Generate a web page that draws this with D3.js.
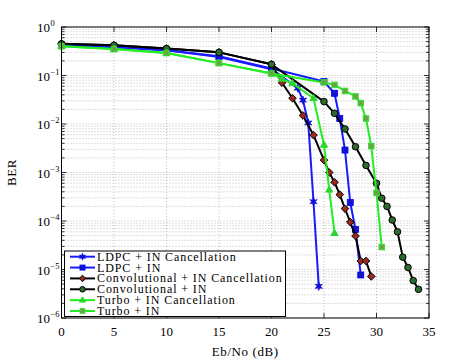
<!DOCTYPE html>
<html><head><meta charset="utf-8">
<script src="https://cdn.jsdelivr.net/npm/d3@7"></script>
<style>
body{margin:0;background:#fff;}
svg{display:block;}
</style></head>
<body><svg id="c" width="474" height="363"></svg>
<script>
// ---- data ----
const seriesNames = ["LDPC + IN Cancellation","LDPC + IN","Convolutional + IN Cancellation","Convolutional + IN","Turbo + IN Cancellation","Turbo + IN"];
const ldpcCancelX = [0,5,10,15,20,22.5,23,23.5,24,24.5];
const ldpcCancelY = [0.42,0.38,0.33,0.24,0.135,0.055,0.031,0.0105,2.5e-4,4.5e-6];
const ldpcInX = [0,5,10,15,20,25,26,26.5,27,27.5,28,28.5];
const ldpcInY = [0.42,0.39,0.33,0.25,0.14,0.075,0.043,0.013,0.0029,2.4e-4,6.7e-5,7.7e-6];
const convCancelX = [0,5,10,15,20,21,22,23,24,25,25.5,26,26.5,27,27.5,28,28.5,29,29.5];
const convCancelY = [0.45,0.42,0.36,0.30,0.17,0.071,0.034,0.015,0.0059,0.0018,1.0e-3,6.3e-4,3.5e-4,1.8e-4,9.5e-5,4.9e-5,1.5e-5,1.5e-5,7.2e-6];
const convInX = [0,5,10,15,20,25,26,27,28,29,30,30.5,31,31.5,32,32.5,33,33.5,34];
const convInY = [0.45,0.42,0.36,0.30,0.17,0.029,0.0166,0.0079,0.0034,0.0014,6e-4,2.95e-4,2.0e-4,1.05e-4,6e-5,1.8e-5,1.1e-5,5.9e-6,3.9e-6];
const turboCancelX = [0,5,10,15,20,21,22,24,25,25.5,26];
const turboCancelY = [0.40,0.35,0.29,0.18,0.11,0.085,0.069,0.034,0.0037,4.4e-4,5.6e-5];
const turboInX = [0,5,10,15,20,25,26,27,28,28.5,29,29.5,30,30.5];
const turboInY = [0.40,0.35,0.29,0.18,0.11,0.072,0.064,0.048,0.037,0.027,0.013,0.0035,3.8e-4,2.9e-5];
const xTicks = [0,5,10,15,20,25,30,35];
const yExps = [0,-1,-2,-3,-4,-5,-6];
const xLabel = "Eb/No (dB)";
const yLabel = "BER";

// ---- layout ----
const FONT = "'Liberation Serif', 'DejaVu Serif', serif";
const svg = d3.select("#c").attr("font-family", FONT);
const L = 61.5, R = 429, T = 27, B = 318;
const x = d3.scaleLinear().domain([0,35]).range([L,R]);
const y = d3.scaleLog().domain([1e-6,1]).range([B,T]);

// grid
const g = svg.append("g");
xTicks.forEach(t=>{
  g.append("line").attr("x1",x(t)).attr("x2",x(t)).attr("y1",T).attr("y2",B)
   .attr("stroke","#b0b0b0").attr("stroke-width",0.8).attr("stroke-dasharray","1,2");
});
const yGrid = [];
for(let e=-6;e<0;e++){ for(let m=1;m<10;m++){ yGrid.push(m*Math.pow(10,e)); } }
yGrid.push(1);
yGrid.forEach(v=>{
  g.append("line").attr("x1",L).attr("x2",R).attr("y1",y(v)).attr("y2",y(v))
   .attr("stroke","#b0b0b0").attr("stroke-width",0.8).attr("stroke-dasharray","1,2");
});

// ticks (inside, all sides)
const tk = svg.append("g").attr("stroke","#000").attr("stroke-width",0.8);
xTicks.forEach(t=>{
  tk.append("line").attr("x1",x(t)).attr("x2",x(t)).attr("y1",B).attr("y2",B-5);
  tk.append("line").attr("x1",x(t)).attr("x2",x(t)).attr("y1",T).attr("y2",T+5);
});
yGrid.forEach(v=>{
  const major = Math.abs(Math.log10(v)-Math.round(Math.log10(v)))<1e-9;
  const len = major?5:3;
  tk.append("line").attr("x1",L).attr("x2",L+len).attr("y1",y(v)).attr("y2",y(v));
  tk.append("line").attr("x1",R).attr("x2",R-len).attr("y1",y(v)).attr("y2",y(v));
});

// tick labels
xTicks.forEach(t=>{
  svg.append("text").attr("x",x(t)).attr("y",B+18).attr("text-anchor","middle")
    .attr("font-family",FONT).attr("font-size",13).text(t);
});
yExps.forEach(e=>{
  const ty = y(Math.pow(10,e));
  const t = svg.append("text").attr("x",37).attr("y",ty+5).attr("font-family",FONT).attr("font-size",13);
  t.append("tspan").text("10");
  t.append("tspan").attr("font-size",8.5).attr("dy",-6).attr("dx",0.5).text(String(e).replace("-","\u2212"));
});

// axis labels
svg.append("text").attr("x",(L+R)/2).attr("y",356).attr("text-anchor","middle")
  .attr("font-family",FONT).attr("font-size",13).style("letter-spacing","0.6px").text(xLabel);
svg.append("text").attr("transform",`translate(16,${(T+B)/2}) rotate(-90)`).attr("text-anchor","middle")
  .attr("font-family",FONT).attr("font-size",13).style("letter-spacing","0.6px").text(yLabel);

// markers
function marker(sel, type, cx, cy, s){
  s = s||1;
  if(type==="star"){
    const pts=[]; for(let i=0;i<12;i++){const r=(i%2?1.8:4.2)*s; const a=-Math.PI/2+i*Math.PI/6; pts.push([cx+r*Math.cos(a),cy+r*Math.sin(a)]);}
    sel.append("polygon").attr("points",pts.map(p=>p.join(",")).join(" ")).attr("fill","#1010e0").attr("stroke","#0000cc").attr("stroke-width",0.6);
  } else if(type==="square"){
    sel.append("rect").attr("x",cx-3*s).attr("y",cy-3*s).attr("width",6*s).attr("height",6*s).attr("fill","#1414cc").attr("stroke","#0000ee").attr("stroke-width",0.8);
  } else if(type==="diamond"){
    const r=3.8*s;
    sel.append("polygon").attr("points",`${cx},${cy-r} ${cx+r},${cy} ${cx},${cy+r} ${cx-r},${cy}`).attr("fill","#9a2a1e").attr("stroke","#000").attr("stroke-width",1);
  } else if(type==="circle"){
    sel.append("circle").attr("cx",cx).attr("cy",cy).attr("r",3.3*s).attr("fill","#2f6b2f").attr("stroke","#000").attr("stroke-width",1);
  } else if(type==="triangle"){
    const r=3.8*s;
    sel.append("polygon").attr("points",`${cx},${cy-r} ${cx+r*0.95},${cy+r*0.6} ${cx-r*0.95},${cy+r*0.6}`).attr("fill","#3acc3a").attr("stroke","#22dd22").attr("stroke-width",1);
  } else if(type==="xsquare"){
    sel.append("rect").attr("x",cx-2.8*s).attr("y",cy-2.8*s).attr("width",5.6*s).attr("height",5.6*s).attr("fill","#55bb44").attr("stroke","#33dd33").attr("stroke-width",0.9);
    sel.append("path").attr("d",`M${cx-2*s},${cy-2*s}L${cx+2*s},${cy+2*s}M${cx+2*s},${cy-2*s}L${cx-2*s},${cy+2*s}`).attr("stroke","#aa6644").attr("stroke-width",0.6);
  }
}

const series = [
  {xs:ldpcCancelX, ys:ldpcCancelY, color:"#1a1aff", m:"star"},
  {xs:ldpcInX, ys:ldpcInY, color:"#1a1aff", m:"square"},
  {xs:convCancelX, ys:convCancelY, color:"#000000", m:"diamond"},
  {xs:convInX, ys:convInY, color:"#000000", m:"circle"},
  {xs:turboCancelX, ys:turboCancelY, color:"#22ee22", m:"triangle"},
  {xs:turboInX, ys:turboInY, color:"#22ee22", m:"xsquare"}
];
const line = d3.line().x(d=>x(d[0])).y(d=>y(d[1]));
const plot = svg.append("g");
series.forEach((s,i)=>{
  const data = s.xs.map((v,j)=>[v,s.ys[j]]);
  plot.append("path").attr("d",line(data)).attr("fill","none").attr("stroke",s.color).attr("stroke-width",2).attr("stroke-linejoin","round");
  const mg = plot.append("g");
  data.forEach(d=>marker(mg,s.m,x(d[0]),y(d[1])));
});

// box
svg.append("rect").attr("x",L).attr("y",T).attr("width",R-L).attr("height",B-T).attr("fill","none").attr("stroke","#000").attr("stroke-width",1);

// legend
const lg = svg.append("g");
lg.append("rect").attr("x",64.5).attr("y",251).attr("width",221).attr("height",65.5).attr("fill","#fff").attr("stroke","#000").attr("stroke-width",1);
seriesNames.forEach((n,i)=>{
  const ly = 256.7 + i*10.86;
  lg.append("line").attr("x1",70).attr("x2",95).attr("y1",ly).attr("y2",ly).attr("stroke",series[i].color).attr("stroke-width",2);
  marker(lg,series[i].m,82.5,ly,0.85);
  lg.append("text").attr("x",97).attr("y",ly+4).attr("font-family",FONT).attr("font-size",12).style("letter-spacing","0.9px").text(n);
});
</script></body></html>
